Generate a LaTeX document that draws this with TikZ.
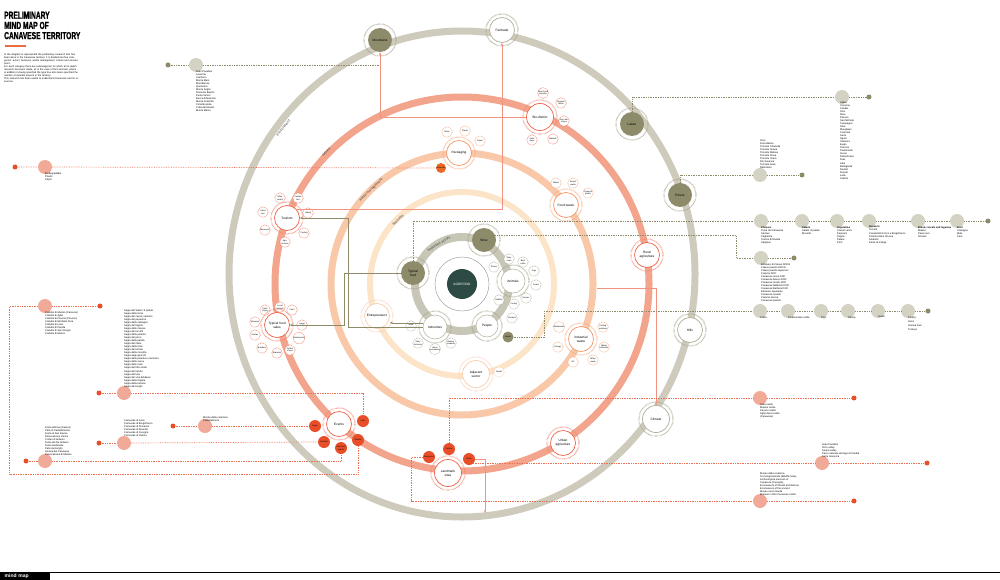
\documentclass[tikz,border=0pt]{standalone}
\usepackage{fontspec}
\setmainfont{Liberation Sans}
\newfontfamily\titlefont{Liberation Sans}[FakeStretch=0.65,BoldFeatures={FakeBold=1.2}]
\usetikzlibrary{arrows.meta}

\definecolor{envgrey}{RGB}{206,203,189}
\definecolor{cultring}{RGB}{242,165,140}
\definecolor{wastering}{RGB}{248,200,168}
\definecolor{busring}{RGB}{252,228,200}
\definecolor{actring}{RGB}{200,198,182}
\definecolor{olivec}{RGB}{141,139,106}
\definecolor{tealc}{RGB}{46,74,69}
\definecolor{hotred}{RGB}{232,78,42}
\definecolor{pinkc}{RGB}{242,170,152}
\definecolor{listgrey}{RGB}{212,210,194}
\definecolor{cultline}{RGB}{236,100,74}
\definecolor{wasteline}{RGB}{242,150,100}
\definecolor{titleor}{RGB}{232,110,60}
\colorlet{bizhalo}{wasteline!60}

\newcommand{\tinytxt}{\fontsize{3.2}{3.8}\selectfont}
\newcommand{\microtxt}{\fontsize{2.1}{2.5}\selectfont}
\newcommand{\listtxt}{\fontsize{2.5}{3.05}\selectfont}

\begin{document}
\begin{tikzpicture}[x=1pt,y=-1pt,
  every node/.style={font=\tinytxt},
  core/.style={circle,fill=tealc,text=white,minimum size=30pt,inner sep=0pt},
  actor/.style={circle,draw=olivec!60,fill=white,line width=0.6pt,minimum size=24pt,inner sep=0pt,align=center},
  olivebox/.style={circle,fill=olivec,minimum size=24pt,inner sep=0pt,align=center},
  hub/.style={circle,draw=cultline,fill=white,line width=0.7pt,minimum size=25pt,inner sep=0pt,align=center},
  wastehub/.style={hub,draw=wasteline},
  bizhub/.style={hub,draw=busring!70!wasteline},
  envhub/.style={hub,draw=olivec!70},
  sat/.style={circle,draw=cultline,dash pattern=on 0.5pt off 0.7pt,fill=white,line width=0.5pt,minimum size=10.5pt,inner sep=0pt,align=center,font=\microtxt},
  greysat/.style={sat,draw=olivec!80},
  wastesat/.style={sat,draw=wasteline},
  hot/.style={circle,fill=hotred,minimum size=12pt,inner sep=0pt,align=center,font=\microtxt},
  halo/.style={dash pattern=on 0.35pt off 0.85pt,line width=1.3pt},
  greybig/.style={circle,fill=listgrey,minimum size=14pt,inner sep=0pt},
  pinkbig/.style={circle,fill=pinkc,minimum size=14pt,inner sep=0pt},
  olivedot/.style={circle,fill=olivec,minimum size=5pt,inner sep=0pt},
  reddot/.style={circle,fill=hotred,minimum size=5pt,inner sep=0pt},
  listtext/.style={font=\listtxt,align=left,inner sep=0pt},
  greydots/.style={draw=olivec,line width=0.7pt,dash pattern=on 0.7pt off 1pt},
  reddots/.style={draw=hotred!80,line width=0.7pt,dash pattern=on 0.7pt off 1pt},
  greyline/.style={draw=olivec,line width=0.45pt},
  redline/.style={draw=cultline!70,line width=0.6pt},
  tip/.style={-{Stealth[length=3pt,width=2.4pt]}},
  ringlabel/.style={font=\fontsize{3.6}{4}\selectfont,text=black!75}
]
\useasboundingbox (0,0) rectangle (1000,580);

% title and intro
\node[anchor=north west,inner sep=0pt,align=left,font=\titlefont\bfseries\fontsize{10.2}{10.2}\selectfont] (title) at (4,11.5)
  {PRELIMINARY\\MIND MAP OF\\CANAVESE TERRITORY};
\draw[titleor,line width=1.3pt] (5,46) -- (26,46);
\node[anchor=north west,listtext,text width=76pt] (intro) at (4,53)
  {In the diagram is represented the preliminary research that has been done in the Canavese territory; it is divided into five categories: actors, business, waste management, culture and environment.\\
   For each category there are subcategories for which an in-depth research has been made, as in the case of farm animals, where in addition to being specified the type has also been specified the number of animals present in the territory.\\
   This research has been useful to understand Canavese and its resources.};

% rings
\coordinate (hub) at (462,284);
\draw[envgrey,line width=7pt] (462,274) ellipse (233pt and 243pt);
\draw[cultring,line width=7pt] (hub) circle (187pt);
\draw[wastering,line width=7pt] (hub) circle (131pt);
\draw[busring,line width=6pt] (hub) circle (92pt);
\draw[actring,line width=8pt] (hub) circle (47pt);
\draw[tealc!60,line width=0.4pt] (hub) circle (27pt);

\node[ringlabel,rotate=51] (envlab) at (283,128) {environment};
\node[ringlabel,rotate=46] (cultlab) at (326,152) {culture};
\node[ringlabel,rotate=44] (wastelab) at (371,190) {waste management};
\node[ringlabel,rotate=45] (bizlab) at (398,220) {business};
\node[ringlabel,rotate=31] (actlab) at (439,244) {important actors};

% centre and actors
\node[core] (agri) at (hub) {AGRIFOOD};
\node[olivebox] (typfood) at (413,273) {Typical\\food};
\node[olivebox] (wine) at (484,240) {Wine};
\node[actor] (animals) at (513,281) {Animals};
\node[actor,minimum size=22pt] (people) at (487,326) {People};
\node[actor] (industries) at (435,327) {Industries};

\node[greysat] (a1) at (509,259) {Dairy\\cows};
\node[greysat] (a2) at (523,262) {Beef\\cattle};
\node[greysat] (a3) at (534,271) {Pigs};
\node[greysat] (a4) at (494,267) {Sheep};
\node[greysat] (a5) at (536,285) {Goats};
\node[greysat] (a6) at (526,298) {Horses};
\node[greysat] (a7) at (514,304) {Poultry};
\node[greysat] (a8) at (499,300) {Rabbits};
\node[greysat] (p1) at (512,318) {Farmers};
\node[circle,fill=olivec,minimum size=11pt,inner sep=0pt,font=\microtxt] (meats) at (508,337) {Meats};
\node[greysat] (i1) at (411,326) {Wine\\makers};
\node[greysat] (i2) at (418,343) {Dairy\\factories};
\node[greysat] (i3) at (435,349) {Meat\\processing};
\node[greysat] (i4) at (451,343) {Bakery\\products};

% business
\node[bizhub] (entre) at (377,316) {Entrepreneurs};
\node[bizhub,minimum size=27pt] (adjacent) at (476,374) {Adjacent\\sector};
\node[sat,draw=busring!60!wasteline] (seeds) at (499,372) {Seeds};

% waste management
\node[wastehub] (packaging) at (459,153) {Packaging};
\node[wastesat] (pk1) at (447,132) {Glass};
\node[wastesat] (pk2) at (465,131) {Plastic};
\node[wastesat] (pk3) at (480,141) {Paper};
\node[circle,fill=hotred!85!yellow,minimum size=10pt,inner sep=0pt,font=\microtxt] (materials) at (441,168) {Materials};
\node[wastehub] (foodwaste) at (566,205) {Food waste};
\node[wastesat] (fw1) at (556,183) {Waste};
\node[wastesat] (fw2) at (573,183) {Bread\\waste};
\node[wastesat] (fw3) at (588,193) {Compost\\plants};
\node[wastehub] (indwaste) at (581,339) {Industrial\\waste};
\node[wastesat] (iw1) at (559,327) {Wastewater};
\node[wastesat] (iw2) at (603,327) {Cutting\\residues};
\node[wastesat] (iw3) at (558,347) {Energy};
\node[wastesat] (iw4) at (604,347) {Waste\\collection};
\node[wastesat] (iw5) at (573,362) {Oil};
\node[wastesat] (iw6) at (593,360) {Whey\\waste};

% culture
\node[hub,minimum size=27pt] (biowaste) at (540,117) {Bio-district};
\node[sat] (b1) at (543,93) {Slow Food\\presidia};
\node[sat] (b2) at (561,103) {Organic\\farms};
\node[sat] (b3) at (564,121) {Zero km\\shops};
\node[sat] (b4) at (553,139) {Markets};
\node[sat] (b5) at (532,140) {Farm\\stays};
\node[hub] (tourism) at (287,218) {Tourism};
\node[sat] (t1) at (263,212) {Lakes\\tour};
\node[sat] (t2) at (280,198) {Wine\\routes};
\node[sat] (t3) at (298,198) {Castles\\tour};
\node[sat] (t4) at (308,213) {Hiking};
\node[sat] (t5) at (304,233) {Cycling};
\node[sat] (t6) at (285,242) {Agri-\\tourism};
\node[sat] (t7) at (265,230) {Museums};
\node[hub] (sales) at (277,325) {Typical food\\sales};
\node[sat] (s1) at (265,310) {Farm\\shops};
\node[sat] (s2) at (280,307) {Local\\markets};
\node[sat] (s3) at (292,310) {Fairs};
\node[sat] (s4) at (302,325) {Large\\retail};
\node[sat] (s5) at (299,338) {Restaurants};
\node[sat] (s6) at (290,350) {Online\\shops};
\node[sat] (s7) at (277,353) {Bakeries};
\node[sat] (s8) at (262,348) {Butchers};
\node[sat] (s9) at (255,335) {Dairies};
\node[sat] (s10) at (255,322) {Wineries};
\node[hub] (events) at (339,424) {Events};
\node[hot] (e1) at (315,426) {Sagre};
\node[hot] (e2) at (324,442) {Carnival};
\node[hot] (e3) at (341,448) {Historical\\events};
\node[hot] (e4) at (358,440) {Castles};
\node[hot] (e5) at (363,421) {Fairs};
\node[hub,minimum size=27pt] (landmark) at (448,473) {Landmark\\sites};
\node[hot] (lm1) at (429,457) {Museums};
\node[hot] (lm2) at (449,449) {Castles};
\node[hot] (lm3) at (469,459) {Parks};
\node[hub] (urban) at (563,443) {Urban\\agriculture};
\node[hub] (rural) at (647,255) {Rural\\agriculture};

% environment
\node[olivebox] (mountains) at (380,40) {Mountains};
\node[envhub] (fair) at (502,30) {Fairtrade};
\node[olivebox] (lakes) at (632,124) {Lakes};
\node[olivebox] (rivers) at (680,195) {Rivers};
\node[envhub] (hills) at (690,330) {Hills};
\node[envhub,minimum size=27pt] (climate) at (656,419) {Climate};

% halos
\foreach \n/\r/\c in {typfood/16/olivec,wine/16/olivec,animals/16/olivec,people/15/olivec,industries/16/olivec,
    mountains/16/olivec,fair/16/olivec,lakes/16/olivec,rivers/16/olivec,hills/16/olivec,climate/17/olivec,
    entre/16/bizhalo,adjacent/17/bizhalo,packaging/16/wasteline,foodwaste/16/wasteline,indwaste/16/wasteline,
    biowaste/17/cultline,tourism/16/cultline,sales/16/cultline,events/16/cultline,landmark/17/cultline,urban/16/cultline,rural/16/cultline}
  \draw[halo,draw=\c!80] (\n) circle (\r pt);

% solid connectors
\draw[redline,tip] (tourism.north east) -| (fair.south);
\draw[redline,tip] (biowaste.west) -| (mountains.south);
\coordinate (wastejoint) at (597,288);
\draw[redline,tip] (wastejoint) -| (climate.north);
\coordinate (ringend) at (485,513);
\draw[redline,tip] (lm3.east) -| (ringend);
\draw[greyline,tip] (typfood.west) -- ++(-57,0) |- (sales.east);
\draw[greyline,tip] (industries.west) -- ++(-74,0) |- (tourism.east);
\draw[greyline,tip] (industries.160) -- (entre.east |- industries.160);

% environment lists (right)
\node[greybig] (lk) at (842,97) {};
\node[olivedot] (lkdot) at (869,97) {};
\draw[greydots] (lakes.north) |- (lk.west);
\draw[greydots] (lk) -- (lkdot);
\node[listtext,anchor=north west] (lklist) at (840,101)
  {Lakes\\Viverone\\Candia\\Sirio\\Nero\\Pistono\\San Michele\\Campagna\\Alice\\Meugliano\\Ceresole\\Serr\`u\\Agnel\\Valsoera\\Eugio\\Teleccio\\Piantonetto\\Gover\\Della Rossa\\Dres\\Lillet\\Bellagarda\\Nivolet\\Rosset\\Leit\`a\\Cialma};
\node[greybig] (rv) at (760,175) {};
\node[olivedot] (rvdot) at (802,175) {};
\draw[greydots] (rivers.north) |- (rv.west);
\draw[greydots] (rv) -- (rvdot);
\node[listtext,anchor=south west] (rvlist) at (760,169)
  {Orco\\Dora Baltea\\Torrente Chiusella\\Torrente Soana\\Torrente Malone\\Torrente Piova\\Torrente Viana\\Rio Savenca\\Torrente Assa\\Ribordone};
\node[greybig] (mt) at (196,65) {};
\node[olivedot] (mtdot) at (168,65) {};
\draw[greydots] (mtdot) -- (mt) -- (mt -| mountains);
\node[listtext,anchor=north west] (mtlist) at (196,70)
  {Gran Paradiso\\Levanna\\Ciarforon\\Monte Mars\\Mombarone\\Quinzeina\\Monte Soglio\\Rosa dei Banchi\\Punta Verzel\\Becca di Monciair\\Monte Colombo\\Cima Bossola\\Colle del Nivolet\\Monte Marzo};
\node[pinkbig] (mat) at (45,167) {};
\node[reddot] (matdot) at (15,167) {};
\draw[reddots] (matdot) -- (mat) -- (materials.west);
\node[listtext,anchor=north west] (matlist) at (45,172) {Biodegradable\\Plastic\\Paper};

% typical food row
\foreach \i/\x/\t in {1/761/{\textbf{Cheeses}\\Toma del Canavese\\Seirass\\Paglierina\\Tomino di Rivalta\\Salignun},
    2/802/{\textbf{Salami}\\Salam 'd patata\\Mocetta},
    3/837/{\textbf{Vegetables}\\Cavolo verza\\Peperoni\\Fagioli\\Patate\\Porri},
    4/869/{\textbf{Desserts}\\Torcetti\\Canestrelli di Vico e Borgofranco\\Polenta dolce di Ivrea\\Amaretti\\Paste di meliga},
    5/918/{\textbf{Bread, cereals and legumes}\\Miasse\\Pane nero\\Grissini},
    6/957/{\textbf{Fruit}\\Castagne\\Mele\\Pere}}
  {\node[greybig] (f\i) at (\x,221) {};
   \node[listtext,anchor=north west] (fl\i) at (\x,226) {\t};}
\node[olivedot] (fdot) at (988,221) {};
\draw[greydots] (typfood.north) |- (f1.west);
\draw[greydots] (f1) -- (f2) -- (f3) -- (f4) -- (f5) -- (f6) -- (fdot);

% wine row
\node[greybig] (wn) at (761,258) {};
\node[olivedot] (wndot) at (794,258) {};
\draw[greydots] (wine.20) -- ++(241,0) |- (wn.west);
\draw[greydots] (wn) -- (wndot);
\node[listtext,anchor=north west] (wnlist) at (761,263)
  {Erbaluce di Caluso DOCG\\Caluso passito DOCG\\Caluso passito liquoroso\\Carema DOC\\Canavese rosso DOC\\Canavese bianco DOC\\Canavese rosato DOC\\Canavese Nebbiolo DOC\\Canavese Barbera DOC\\Erbaluce spumante\\Canavese novello\\Carema riserva\\Canavese passito};

% animals row
\foreach \i/\x/\t in {1/760/{Cattle},2/788/{Piedmontese cattle},3/821/{Pigs},4/848/{Sheep},5/878/{Goats},6/908/{Poultry\\[1pt]Hens\\[1pt]Guinea fowl\\[1pt]Turkeys}}
  {\node[greybig] (h\i) at (\x,311) {};
   \node[listtext,anchor=north west] (hl\i) at (\x,316) {\t};}
\node[olivedot] (hdot) at (928,311) {};
\draw[greydots] (meats.east) -- ++(31,0) |- (h1.west);
\draw[greydots] (h1) -- (h2) -- (h3) -- (h4) -- (h5) -- (h6) -- (hdot);

% event lists (left)
\node[pinkbig] (l1) at (45,306) {};
\node[reddot] (l1dot) at (100,306) {};
\node[listtext,anchor=north west] (l1list) at (45,311)
  {Castello di Masino (Caravino)\\Castello di Agli\`e\\Castello di Pavone (Pavone)\\Castello di Montalto Dora\\Castello di Ivrea\\Castello di Parella\\Castello di San Giorgio\\Castello di Mazz\`e};
\node[pinkbig] (l2) at (124,393) {};
\node[reddot] (l2dot) at (99,393) {};
\node[listtext,anchor=south west] (l2list) at (124,388)
  {Sagra del Salam 'd patata\\Sagra della toma\\Sagra del cavolo verzotto\\Sagra del peperone\\Sagra della castagna\\Sagra del fagiolo\\Sagra delle miasse\\Sagra dei torcetti\\Sagra della polenta\\Sagra del porro\\Sagra della patata\\Sagra del miele\\Sagra della trota\\Sagra del tomino\\Sagra della mocetta\\Sagra degli gnocchi\\Sagra della polenta e merluzzo\\Sagra della zucca\\Sagra delle rane\\Sagra del fritto misto\\Sagra del tartufo\\Sagra dell'uva\\Sagra del vino Erbaluce\\Sagra della fragola\\Sagra della lumaca\\Sagra dei funghi};
\node[pinkbig] (l3) at (124,443) {};
\node[reddot] (l3dot) at (99,443) {};
\node[listtext,anchor=south west] (l3list) at (124,437)
  {Carnevale di Ivrea\\Carnevale di Borgofranco\\Carnevale di Chivasso\\Carnevale di Rivarolo\\Carnevale di Cuorgn\`e\\Carnevale di Caluso};
\node[pinkbig] (l4) at (45,461) {};
\node[reddot] (l4dot) at (26,461) {};
\node[listtext,anchor=south west] (l4list) at (45,456)
  {Festa dell'uva (Caluso)\\Palio di Castellamonte\\Festa di San Savino\\Rievocazione storica\\Corteo di Arduino\\Festa del Re Arduino\\Festa medievale\\Palio dei borghi\\Giostra del Canavese\\Rievocazione di Masino};
\node[pinkbig] (l5) at (205,426) {};
\node[reddot] (l5dot) at (173,426) {};
\node[listtext,anchor=south west] (l5list) at (203,422) {Mostra della ceramica\\Castellamonte};

\draw[reddots] (l1dot) -- (l1.east);
\draw[reddots] (l1.west) -| ++(-28,168) -| (e4.south);
\draw[reddots] (l2dot) -- (l2);
\draw[reddots] (l2.east) -| (e5.north);
\draw[reddots] (l3dot) -- (l3);
\draw[reddots] (l3.east) -- (e2.west);
\draw[reddots] (l4dot) -- (l4);
\draw[reddots] (l4.east) -| (e3.south);
\draw[reddots] (l5dot) -- (l5) -- (e1.west);

% landmark lists (right)
\node[pinkbig] (r1) at (760,398) {};
\node[reddot] (r1dot) at (854,398) {};
\node[listtext,anchor=north west] (r1list) at (760,403)
  {Ivrea castle\\Masino castle\\Pavone castle\\Agli\`e ducal castle\\(Canavese)};
\node[pinkbig] (r2) at (822,463) {};
\node[reddot] (r2dot) at (927,463) {};
\node[listtext,anchor=south west] (r2list) at (822,458)
  {Gran Paradiso\\Orco valley\\Soana valley\\Parco naturale del lago di Candia\\Serra morenica};
\node[pinkbig] (r3) at (760,501) {};
\node[reddot] (r3dot) at (854,501) {};
\node[listtext,anchor=south west] (r3list) at (760,496)
  {Museo della ceramica\\Tecnologicamente (MAAM Ivrea)\\Archeological museum of\\Canavese (Cuorgn\`e)\\Ecomuseum of Olivetti architecture\\Ecomuseum of the ancient\\Museo civico Garda\\Museum of the Canavese castle};

\draw[reddots] (lm2.north) |- (r1.west);
\draw[reddots] (r1) -- (r1dot);
\draw[reddots] (lm3.south east) |- (r2.west);
\draw[reddots] (r2) -- (r2dot);
\draw[reddots] (lm1.west) -- ++(-11,0) |- (r3.west);
\draw[reddots] (r3) -- (r3dot);

% footer
\draw[black,line width=1pt] (0,572) -- (1000,572);
\node[anchor=north west,fill=black,text=white,minimum width=50pt,minimum height=8pt,inner sep=0pt,text width=47pt,align=left,font=\bfseries\fontsize{5}{6}\selectfont] (foot) at (0,572) {\hspace*{3pt}mind map};
\end{tikzpicture}
\end{document}
